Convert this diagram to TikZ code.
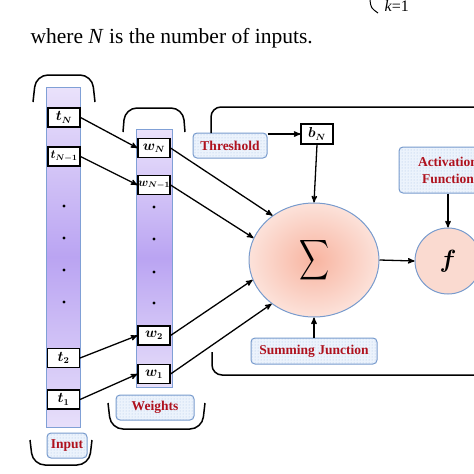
\documentclass[tikz,border=0pt]{standalone}
\usepackage{fontspec}
\setmainfont{Liberation Serif}
\usepackage{amsmath}
\usepackage{graphicx}
\usepackage{xcolor}
\definecolor{coltop}{RGB}{234,226,251}
\definecolor{colmid}{RGB}{186,164,242}
\definecolor{colbot}{RGB}{231,223,250}
\definecolor{coledge}{RGB}{128,160,214}
\definecolor{boxedge}{RGB}{120,155,205}
\definecolor{boxfill}{RGB}{236,243,252}
\definecolor{dotcol}{RGB}{170,195,230}
\definecolor{lblred}{RGB}{175,18,30}
\definecolor{sigin}{RGB}{248,180,160}
\definecolor{sigout}{RGB}{252,226,218}
\definecolor{fnfill}{RGB}{250,218,208}
\usepackage{tikz}
\usetikzlibrary{positioning}
\usetikzlibrary{arrows,shapes.geometric,patterns}

\tikzset{
  column/.style={draw=coledge,line width=1pt,rectangle,inner sep=0,top color=coltop,bottom color=colbot,middle color=colmid},
  valbox/.style={draw,rectangle,fill=white,line width=1.1pt,inner sep=0,minimum width=32,minimum height=19,font=\fontsize{13.5}{14}\selectfont\boldmath},
  valboxw/.style={valbox,font=\fontsize{11.5}{12}\selectfont\boldmath},
  lbl/.style={draw=boxedge,line width=1pt,rectangle,rounded corners=4pt,inner sep=1pt,preaction={fill=boxfill},pattern=dots,pattern color=dotcol,text=lblred,font=\bfseries\fontsize{13.5}{17}\selectfont},
  brace/.style={line width=1.5pt,rounded corners=12pt},
  conn/.style={->,>=stealth',line width=1.3pt}
}

\begin{document}
\begin{tikzpicture}[x=1pt,y=-1pt]
\path[use as bounding box] (0,0) rectangle (474,474);
\clip (0,0) rectangle (474,474);

%caption text
\node (cap) at (27,43) [anchor=base west,font=\fontsize{21.5}{24}\selectfont] {where \textit{N} is the number of inputs.};
\node (lim) at (381,11) [anchor=base west,font=\fontsize{16}{18}\selectfont] {\textit{k}=1};
\draw [line width=1pt] (370,0) .. controls (371,8) .. (378,13);

%input column
\node (incol) at (63.5,257) [column,minimum width=34,minimum height=340] {};
\node (tN) at (64,117.5) [valbox] {$t_N$};
\node (tN1) at (64,156.5) [valboxw] {$t_{N-1}$};
\node (t2) at (63.5,358) [valbox] {$t_2$};
\node (t1) at (63.5,399.5) [valbox] {$t_1$};
\foreach \y in {206,238,270,302}{
  \fill (64,\y) circle (1.7);
}

%weight column
\node (wcol) at (154,258) [column,minimum width=36,minimum height=258] {};
\node (wN) at (154,148) [valbox] {$w_N$};
\node (wN1) at (154,185) [valboxw] {$w_{N-1}$};
\node (w2) at (154,335.5) [valbox] {$w_2$};
\node (w1) at (154,374) [valbox] {$w_1$};
\foreach \y in {207,239,272,303}{
  \fill (154,\y) circle (1.7);
}

%inputs to weights
\draw [conn] (tN.east) -- (wN.west);
\draw [conn] (tN1.east) -- (wN1.west);
\draw [conn] (t2.east) -- (w2.west);
\draw [conn] (t1.east) -- (w1.west);

%neuron
\node (sig) at (314,260) [ellipse,draw=boxedge,line width=1pt,inner sep=0,minimum width=130,minimum height=114,inner color=sigin,outer color=sigout] {\resizebox*{30pt}{45pt}{$\displaystyle\sum$}};
\node (fn) at (448,261) [circle,draw=boxedge,line width=1pt,inner sep=0,minimum size=66,fill=fnfill,font=\fontsize{24}{24}\selectfont\boldmath] {$f$};
\node (thr) at (230,145.5) [lbl,minimum width=74,minimum height=25] {Threshold};
\node (bN) at (317,134) [valbox,minimum height=20] {$b_N$};
\node (act) at (448,170) [lbl,align=center,minimum width=98,minimum height=46] {Activation\\Function};
\node (sumj) at (314,351) [lbl,minimum width=126,minimum height=26] {Summing Junction};

%weights to sum
\draw [conn] (wN.east) -- (sig.133);
\draw [conn] (wN1.east) -- (sig.160);
\draw [conn] (w2.east) -- (sig.198);
\draw [conn] (w1.east) -- (sig.226);
\draw [conn] (thr.east |- bN.west) -- (bN.west);
\draw [conn] (bN.south) -- (sig.north);
\draw [conn] (sumj.north) -- (sig.south);
\draw [conn] (sig.east) -- (fn.west);
\draw [conn] (act.south) -- (fn.north);

%labels under the columns
\node (wlab) at (155,407.5) [lbl,minimum width=78,minimum height=25] {Weights};
\node (inlab) at (67,445.5) [lbl,minimum width=40,minimum height=25] {Input};

%brackets
\draw [brace] (33,102) -- (36,75) -- (92,75) -- (95,102);
\draw [brace] (123,132) -- (125,108) -- (183,108) -- (185,132);
\draw [brace] (30,440) -- (33,465) -- (89,465) -- (92,440);
\draw [brace] (108,403) -- (111,429) -- (202,429) -- (205,403);
\draw [brace,rounded corners=10pt] (211,133) -- (211,107) -- (480,107);
\draw [brace,rounded corners=10pt] (212,352) -- (212,375) -- (480,375);

\end{tikzpicture}
\end{document}
